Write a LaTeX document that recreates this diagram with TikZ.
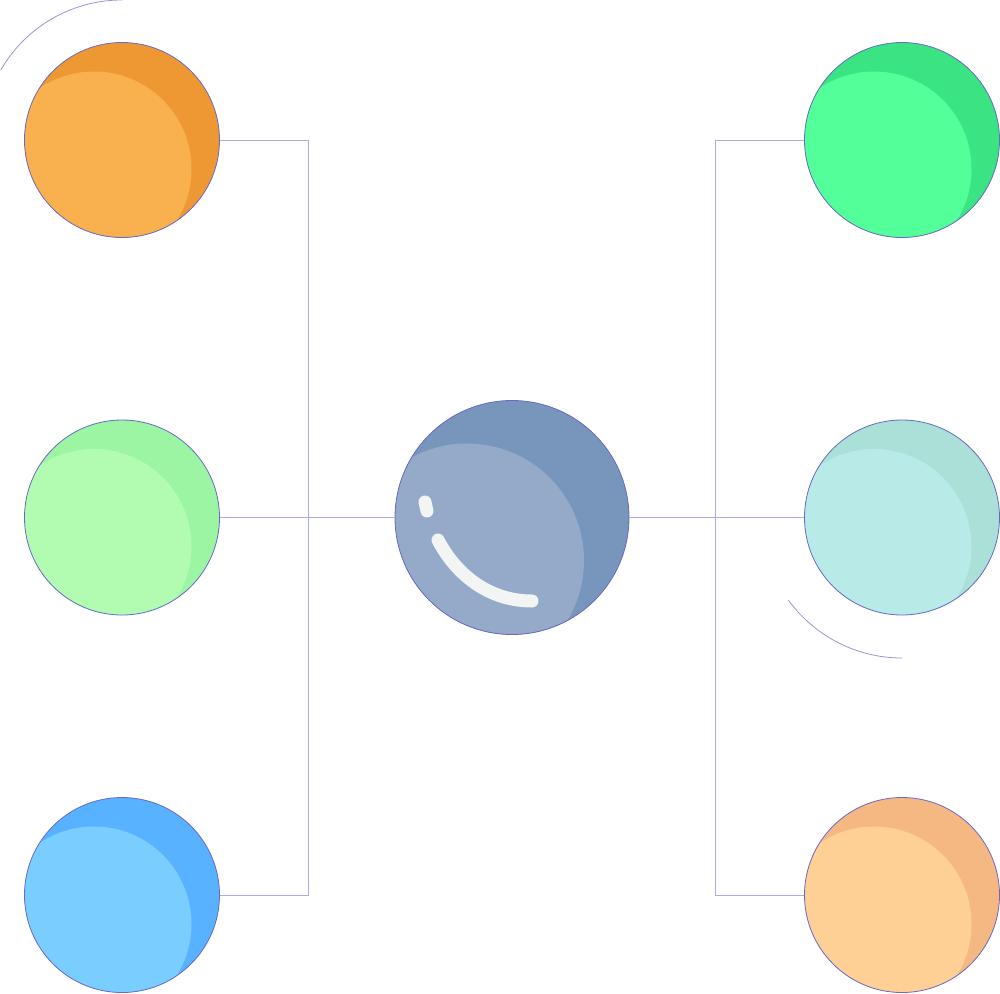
\documentclass[tikz,border=0pt]{standalone}
\definecolor{edgec}{RGB}{105,105,195}
\definecolor{connc}{RGB}{172,172,228}
\definecolor{arcc}{RGB}{150,150,215}
\definecolor{orO}{RGB}{238,152,52}\definecolor{orI}{RGB}{248,177,78}
\definecolor{lgO}{RGB}{155,245,163}\definecolor{lgI}{RGB}{178,252,178}
\definecolor{blO}{RGB}{88,178,255}\definecolor{blI}{RGB}{122,206,255}
\definecolor{grO}{RGB}{58,228,130}\definecolor{grI}{RGB}{82,255,152}
\definecolor{tlO}{RGB}{170,224,216}\definecolor{tlI}{RGB}{184,234,232}
\definecolor{peO}{RGB}{245,184,130}\definecolor{peI}{RGB}{254,208,150}
\definecolor{ceO}{RGB}{120,150,188}\definecolor{ceI}{RGB}{148,170,200}
\definecolor{shine}{RGB}{242,245,244}
\tikzset{
  ball/.style n args={2}{circle, minimum size=195pt, inner sep=0pt, draw=edgec, line width=0.8pt, fill=#1,
    path picture={\fill[#2] ([xshift=-28pt,yshift=-29pt]path picture bounding box.center) circle[radius=97.5pt];}},
  bigball/.style={circle, minimum size=234pt, inner sep=0pt, draw=edgec, line width=0.8pt, fill=ceO,
    path picture={\fill[ceI] ([xshift=-45pt,yshift=-43pt]path picture bounding box.center) circle[radius=117pt];}},
  conn/.style={draw=connc, line width=1pt},
  deco/.style={draw=arcc, line width=0.8pt},
  gleam/.style={draw=shine, line width=13pt, line cap=round}
}
\begin{document}
\begin{tikzpicture}[x=1pt,y=-1pt]
\useasboundingbox (0,0) rectangle (1000,993);
% junction coordinates
\coordinate (ljt) at (308,140);
\coordinate (ljb) at (308,895);
\coordinate (rjt) at (715,140);
\coordinate (rjb) at (715,895);
% nodes
\node[ball={orO}{orI}] (tl) at (122,140) {};
\node[ball={lgO}{lgI}] (ml) at (122,517.5) {};
\node[ball={blO}{blI}] (bl) at (122,895) {};
\node[ball={grO}{grI}] (tr) at (902,140) {};
\node[ball={tlO}{tlI}] (mr) at (902,517.5) {};
\node[ball={peO}{peI}] (br) at (902,895) {};
\node[bigball] (cc) at (512,517.5) {};
% connectors
\draw[conn] (tl) -- (ljt) -- (ljb) -- (bl);
\draw[conn] (ml) -- (cc);
\draw[conn] (tr) -- (rjt) -- (rjb) -- (br);
\draw[conn] (cc) -- (mr);
% decorative arcs
\draw[deco] (122,0) arc[start angle=90, end angle=150, radius=140pt];
\draw[deco] (902,658) arc[start angle=270, end angle=216, radius=140.5pt];
% gleam on the centre ball
\draw[gleam] (425,502) -- (427,511);
\draw[gleam] (438,540) .. controls (458,578) and (492,601) .. (532,601);
\end{tikzpicture}
\end{document}
